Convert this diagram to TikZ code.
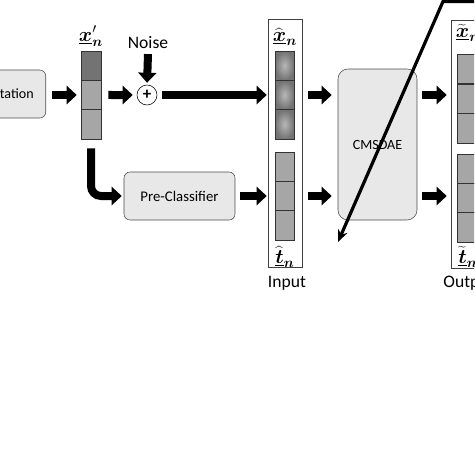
\documentclass[tikz,border=0pt]{standalone}
\usepackage{fontspec}
\setmainfont{Carlito}
\usepackage{bm}
\usetikzlibrary{arrows.meta}
\begin{document}
\begin{tikzpicture}[x=0.25mm, y=-0.25mm,
        box/.style={draw=black!70, fill=black!9, rounded corners=1.5mm},
        cell/.style={draw=black!80, minimum width=5mm, minimum height=7.33mm, inner sep=0pt},
        panel/.style={draw=black!75, minimum width=8.5mm, minimum height=62mm},
        fatarrow/.style={line width=2mm, -{Triangle[length=2.5mm, width=4.5mm]}},
        vlabel/.style={font=\Large, inner sep=0pt}]
        \useasboundingbox (0,0) rectangle (474,474);
        \clip (0,0) rectangle (474,474);
        % blocks
        \node [box, anchor=east, minimum height=12mm, inner xsep=3mm, font=\fontsize{10}{12}\selectfont] (rep) at (46,94) {\hspace*{12mm}tation};
        \node [box, minimum width=27.75mm, minimum height=12mm, font=\fontsize{10.5}{12}\selectfont] (pre) at (179.5,196) {Pre-Classifier};
        \node [box, rounded corners=2.5mm, minimum width=19.75mm, minimum height=37.75mm, font=\fontsize{10}{12}\selectfont] (cms) at (377.5,144.5) {CMSDAE};
        \node [font=\fontsize{12.5}{14}\selectfont] (noise) at (148,43) {Noise};
        \node [draw, circle, minimum size=5mm, inner sep=0pt, font=\fontsize{12}{12}\selectfont\bfseries] (plus) at (147,95) {+};
        % x'_n
        \foreach \i/\c in {1/55,2/35,3/35} {
        \node [cell, fill=black!\c] (xp\i) at (91, {51+29.33*(\i-0.5)}) {};
        }
        \node [vlabel] (xplab) at (91,36) {$\underline{\bm{x}}'_{\bm{n}}$};
        % input
        \node [panel] (input) at (285,143.5) {};
        \foreach \i in {1,2,3} {
        \node [cell, minimum width=4.75mm, inner color=black!28, outer color=black!55] (xh\i) at (284.5, {51+29.33*(\i-0.5)}) {};
        \node [cell, minimum width=4.75mm, fill=black!35] (th\i) at (284.5, {152+29.33*(\i-0.5)}) {};
        }
        \node [vlabel] (xhlab) at (285,37) {$\widehat{\underline{\bm{x}}}_{\bm{n}}$};
        \node [vlabel] (thlab) at (285,257) {$\widehat{\underline{\bm{t}}}_{\bm{n}}$};
        \node [font=\fontsize{12.5}{14}\selectfont] (inlab) at (287,283) {Input};
        % output
        \node [panel] (output) at (468,144) {};
        \foreach \i in {1,2,3} {
        \node [cell, fill=black!35] (xt\i) at (467.5, {54+29.67*(\i-0.5)}) {};
        \node [cell, fill=black!35] (tt\i) at (467.5, {154+29.33*(\i-0.5)}) {};
        }
        \node [vlabel] (xtlab) at (468,33) {$\widetilde{\underline{\bm{x}}}_{\bm{n}}$};
        \node [vlabel] (ttlab) at (468,257) {$\widetilde{\underline{\bm{t}}}_{\bm{n}}$};
        \node [font=\fontsize{12.5}{14}\selectfont] (outlab) at (469,283) {Output};
        % arrows
        \draw [fatarrow, shorten <=1.5mm, shorten >=1mm] (rep.east |- xp2) -- (xp2.west);
        \draw [fatarrow, shorten <=1.75mm, shorten >=1mm] (xp2.east) -- (plus.west);
        \draw [fatarrow, shorten >=0.5mm] (noise.south) -- (plus.north);
        \draw [fatarrow, shorten <=1.25mm, shorten >=0.25mm] (plus.east) -- (plus.east -| input.west);
        \draw [fatarrow, rounded corners=2.5mm, shorten <=2.25mm, shorten >=0.5mm] (xp3.south) |- (pre.west);
        \draw [fatarrow, shorten <=1.25mm, shorten >=0.25mm] (pre.east) -- (pre.east -| input.west);
        \foreach \n in {plus,pre} {
        \draw [fatarrow, shorten <=1.5mm, shorten >=1.5mm] (input.east |- \n) -- (cms.west |- \n);
        \draw [fatarrow, shorten <=1.25mm, shorten >=1mm] (cms.east |- \n) -- (output.west |- \n);
        }
        % overlay line
        \coordinate (tr) at (480,1.5);
        \coordinate (bend) at (443,1.5);
        \coordinate (tip) at (338,242);
        \draw [line width=0.8mm, -{Stealth[length=3mm, width=2.5mm]}] (tr) -- (bend) -- (tip);
\end{tikzpicture}
\end{document}
